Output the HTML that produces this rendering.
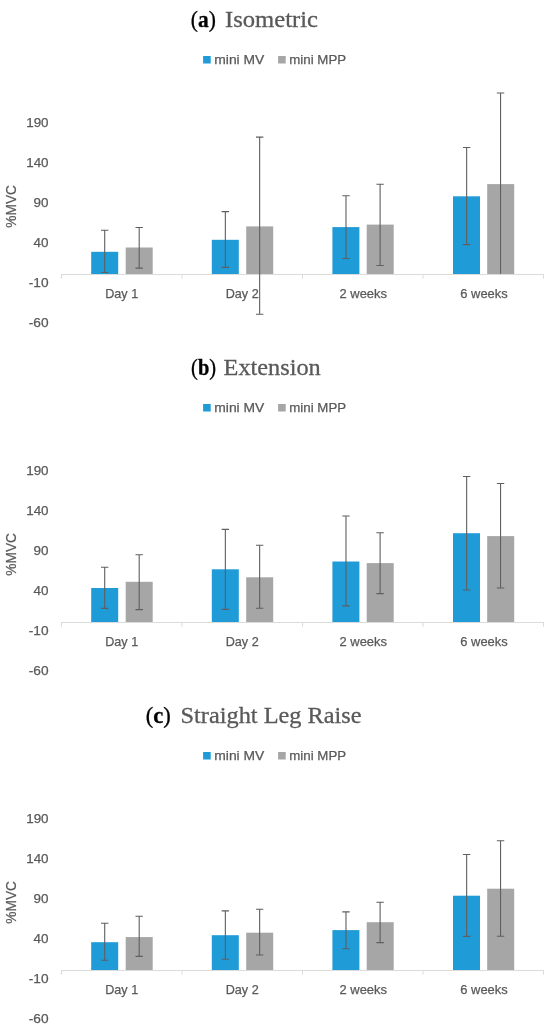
<!DOCTYPE html>
<html lang="en">
<head>
<meta charset="utf-8">
<title>EMG activity charts</title>
<style>
html,body{margin:0;padding:0;background:#fff;}
svg{display:block;}
.s{font-family:"Liberation Sans","DejaVu Sans",sans-serif;font-size:13.1px;fill:#595959;stroke:#595959;stroke-width:0.25px;}
.yt{font-family:"Liberation Sans","DejaVu Sans",sans-serif;font-size:14.4px;fill:#595959;stroke:#595959;stroke-width:0.25px;}
.t{font-family:"Liberation Serif","DejaVu Serif",serif;font-size:23px;stroke-width:0.3px;}
.e{stroke:#5f5f5f;stroke-width:1.1;fill:none;}
</style>
</head>
<body>
<svg width="550" height="1029" viewBox="0 0 550 1029">
<rect width="550" height="1029" fill="#ffffff"/>
<g transform="translate(0,0)">
<text class="t" x="190.8" y="27.3" fill="#000" stroke="#000" textLength="25" lengthAdjust="spacingAndGlyphs">(<tspan font-weight="bold">a</tspan>)</text>
<text class="t" x="225" y="27.3" fill="#595959" stroke="#595959" textLength="93" lengthAdjust="spacingAndGlyphs">Isometric</text>
<rect x="203.1" y="56" width="7.6" height="7.5" fill="#1f9bd8"/>
<text class="s" x="214.3" y="64" textLength="50" lengthAdjust="spacingAndGlyphs">mini MV</text>
<rect x="278.1" y="56" width="7.6" height="7.5" fill="#a6a6a6"/>
<text class="s" x="289.3" y="64" textLength="56.8" lengthAdjust="spacingAndGlyphs">mini MPP</text>
<text class="s" x="26.2" y="127" textLength="22.4" lengthAdjust="spacingAndGlyphs">190</text>
<text class="s" x="26.2" y="167" textLength="22.4" lengthAdjust="spacingAndGlyphs">140</text>
<text class="s" x="33.6" y="207" textLength="15" lengthAdjust="spacingAndGlyphs">90</text>
<text class="s" x="33.6" y="247" textLength="15" lengthAdjust="spacingAndGlyphs">40</text>
<text class="s" x="28.8" y="287" textLength="19.8" lengthAdjust="spacingAndGlyphs">-10</text>
<text class="s" x="28.8" y="327" textLength="19.8" lengthAdjust="spacingAndGlyphs">-60</text>
<text class="yt" transform="translate(16.2,227.7) rotate(-90)" textLength="42.6" lengthAdjust="spacingAndGlyphs">%MVC</text>
<path d="M61 274.5 H544" stroke="#dbdbdb" stroke-width="1" fill="none"/>
<path d="M61.5 274.5 v4.2 M182 274.5 v4.2 M302.5 274.5 v4.2 M423 274.5 v4.2 M543.5 274.5 v4.2" stroke="#dbdbdb" stroke-width="1" fill="none"/>
<rect x="91.2" y="251.8" width="27" height="22.2" fill="#1f9bd8"/>
<rect x="125.7" y="247.5" width="27" height="26.5" fill="#a6a6a6"/>
<rect x="211.8" y="239.8" width="27" height="34.2" fill="#1f9bd8"/>
<rect x="246.2" y="226.4" width="27" height="47.6" fill="#a6a6a6"/>
<rect x="332.4" y="227.1" width="27" height="46.9" fill="#1f9bd8"/>
<rect x="366.7" y="224.6" width="27" height="49.4" fill="#a6a6a6"/>
<rect x="453" y="196.3" width="27" height="77.7" fill="#1f9bd8"/>
<rect x="487.2" y="184.1" width="27" height="89.9" fill="#a6a6a6"/>
<path class="e" d="M101 230.3 h7.4 M101 272.5 h7.4 M104.7 230.3 V272.5"/>
<path class="e" d="M135.5 227.5 h7.4 M135.5 268.1 h7.4 M139.2 227.5 V268.1"/>
<path class="e" d="M221.65 211.6 h7.4 M221.65 267.4 h7.4 M225.35 211.6 V267.4"/>
<path class="e" d="M255.95 137.1 h7.4 M255.95 314.3 h7.4 M259.65 137.1 V314.3"/>
<path class="e" d="M342.3 195.8 h7.4 M342.3 258.5 h7.4 M346 195.8 V258.5"/>
<path class="e" d="M376.4 184.3 h7.4 M376.4 265.5 h7.4 M380.1 184.3 V265.5"/>
<path class="e" d="M462.95 147.5 h7.4 M462.95 244.6 h7.4 M466.65 147.5 V244.6"/>
<path class="e" d="M496.85 93 h7.4 M500.55 93 V273.8"/>
<text class="s" x="105.2" y="297.5" textLength="33" lengthAdjust="spacingAndGlyphs">Day 1</text>
<text class="s" x="225.7" y="297.5" textLength="33" lengthAdjust="spacingAndGlyphs">Day 2</text>
<text class="s" x="339.5" y="297.5" textLength="47.5" lengthAdjust="spacingAndGlyphs">2 weeks</text>
<text class="s" x="460.25" y="297.5" textLength="47.5" lengthAdjust="spacingAndGlyphs">6 weeks</text>
</g>
<g transform="translate(0,348)">
<text class="t" x="191.1" y="27.3" fill="#000" stroke="#000" textLength="25" lengthAdjust="spacingAndGlyphs">(<tspan font-weight="bold">b</tspan>)</text>
<text class="t" x="223.6" y="27.3" fill="#595959" stroke="#595959" textLength="97.1" lengthAdjust="spacingAndGlyphs">Extension</text>
<rect x="203.1" y="56" width="7.6" height="7.5" fill="#1f9bd8"/>
<text class="s" x="214.3" y="64" textLength="50" lengthAdjust="spacingAndGlyphs">mini MV</text>
<rect x="278.1" y="56" width="7.6" height="7.5" fill="#a6a6a6"/>
<text class="s" x="289.3" y="64" textLength="56.8" lengthAdjust="spacingAndGlyphs">mini MPP</text>
<text class="s" x="26.2" y="127" textLength="22.4" lengthAdjust="spacingAndGlyphs">190</text>
<text class="s" x="26.2" y="167" textLength="22.4" lengthAdjust="spacingAndGlyphs">140</text>
<text class="s" x="33.6" y="207" textLength="15" lengthAdjust="spacingAndGlyphs">90</text>
<text class="s" x="33.6" y="247" textLength="15" lengthAdjust="spacingAndGlyphs">40</text>
<text class="s" x="28.8" y="287" textLength="19.8" lengthAdjust="spacingAndGlyphs">-10</text>
<text class="s" x="28.8" y="327" textLength="19.8" lengthAdjust="spacingAndGlyphs">-60</text>
<text class="yt" transform="translate(16.2,227.7) rotate(-90)" textLength="42.6" lengthAdjust="spacingAndGlyphs">%MVC</text>
<path d="M61 274.5 H544" stroke="#dbdbdb" stroke-width="1" fill="none"/>
<path d="M61.5 274.5 v4.2 M182 274.5 v4.2 M302.5 274.5 v4.2 M423 274.5 v4.2 M543.5 274.5 v4.2" stroke="#dbdbdb" stroke-width="1" fill="none"/>
<rect x="91.2" y="240" width="27" height="34" fill="#1f9bd8"/>
<rect x="125.7" y="233.8" width="27" height="40.2" fill="#a6a6a6"/>
<rect x="211.8" y="221.3" width="27" height="52.7" fill="#1f9bd8"/>
<rect x="246.2" y="229.3" width="27" height="44.7" fill="#a6a6a6"/>
<rect x="332.4" y="213.5" width="27" height="60.5" fill="#1f9bd8"/>
<rect x="366.7" y="215.1" width="27" height="58.9" fill="#a6a6a6"/>
<rect x="453" y="185.2" width="27" height="88.8" fill="#1f9bd8"/>
<rect x="487.2" y="188.1" width="27" height="85.9" fill="#a6a6a6"/>
<path class="e" d="M101 219.2 h7.4 M101 260.4 h7.4 M104.7 219.2 V260.4"/>
<path class="e" d="M135.5 206.7 h7.4 M135.5 261.6 h7.4 M139.2 206.7 V261.6"/>
<path class="e" d="M221.65 181.4 h7.4 M221.65 261.4 h7.4 M225.35 181.4 V261.4"/>
<path class="e" d="M255.95 197.2 h7.4 M255.95 260.2 h7.4 M259.65 197.2 V260.2"/>
<path class="e" d="M342.3 168 h7.4 M342.3 257.9 h7.4 M346 168 V257.9"/>
<path class="e" d="M376.4 184.7 h7.4 M376.4 245.6 h7.4 M380.1 184.7 V245.6"/>
<path class="e" d="M462.95 128.5 h7.4 M462.95 242 h7.4 M466.65 128.5 V242"/>
<path class="e" d="M496.85 135.5 h7.4 M496.85 240 h7.4 M500.55 135.5 V240"/>
<text class="s" x="105.2" y="297.5" textLength="33" lengthAdjust="spacingAndGlyphs">Day 1</text>
<text class="s" x="225.7" y="297.5" textLength="33" lengthAdjust="spacingAndGlyphs">Day 2</text>
<text class="s" x="339.5" y="297.5" textLength="47.5" lengthAdjust="spacingAndGlyphs">2 weeks</text>
<text class="s" x="460.25" y="297.5" textLength="47.5" lengthAdjust="spacingAndGlyphs">6 weeks</text>
</g>
<g transform="translate(0,696)">
<text class="t" x="145.8" y="27.3" fill="#000" stroke="#000" textLength="25" lengthAdjust="spacingAndGlyphs">(<tspan font-weight="bold">c</tspan>)</text>
<text class="t" x="180.6" y="27.3" fill="#595959" stroke="#595959" textLength="180.9" lengthAdjust="spacingAndGlyphs">Straight Leg Raise</text>
<rect x="203.1" y="56" width="7.6" height="7.5" fill="#1f9bd8"/>
<text class="s" x="214.3" y="64" textLength="50" lengthAdjust="spacingAndGlyphs">mini MV</text>
<rect x="278.1" y="56" width="7.6" height="7.5" fill="#a6a6a6"/>
<text class="s" x="289.3" y="64" textLength="56.8" lengthAdjust="spacingAndGlyphs">mini MPP</text>
<text class="s" x="26.2" y="127" textLength="22.4" lengthAdjust="spacingAndGlyphs">190</text>
<text class="s" x="26.2" y="167" textLength="22.4" lengthAdjust="spacingAndGlyphs">140</text>
<text class="s" x="33.6" y="207" textLength="15" lengthAdjust="spacingAndGlyphs">90</text>
<text class="s" x="33.6" y="247" textLength="15" lengthAdjust="spacingAndGlyphs">40</text>
<text class="s" x="28.8" y="287" textLength="19.8" lengthAdjust="spacingAndGlyphs">-10</text>
<text class="s" x="28.8" y="327" textLength="19.8" lengthAdjust="spacingAndGlyphs">-60</text>
<text class="yt" transform="translate(16.2,227.7) rotate(-90)" textLength="42.6" lengthAdjust="spacingAndGlyphs">%MVC</text>
<path d="M61 274.5 H544" stroke="#dbdbdb" stroke-width="1" fill="none"/>
<path d="M61.5 274.5 v4.2 M182 274.5 v4.2 M302.5 274.5 v4.2 M423 274.5 v4.2 M543.5 274.5 v4.2" stroke="#dbdbdb" stroke-width="1" fill="none"/>
<rect x="91.2" y="246.2" width="27" height="27.8" fill="#1f9bd8"/>
<rect x="125.7" y="241.1" width="27" height="32.9" fill="#a6a6a6"/>
<rect x="211.8" y="239.2" width="27" height="34.8" fill="#1f9bd8"/>
<rect x="246.2" y="236.7" width="27" height="37.3" fill="#a6a6a6"/>
<rect x="332.4" y="234.1" width="27" height="39.9" fill="#1f9bd8"/>
<rect x="366.7" y="226.2" width="27" height="47.8" fill="#a6a6a6"/>
<rect x="453" y="199.7" width="27" height="74.3" fill="#1f9bd8"/>
<rect x="487.2" y="192.7" width="27" height="81.3" fill="#a6a6a6"/>
<path class="e" d="M101 227.3 h7.4 M101 264.3 h7.4 M104.7 227.3 V264.3"/>
<path class="e" d="M135.5 220.3 h7.4 M135.5 260.4 h7.4 M139.2 220.3 V260.4"/>
<path class="e" d="M221.65 214.9 h7.4 M221.65 263.3 h7.4 M225.35 214.9 V263.3"/>
<path class="e" d="M255.95 213.3 h7.4 M255.95 259 h7.4 M259.65 213.3 V259"/>
<path class="e" d="M342.3 215.9 h7.4 M342.3 252.8 h7.4 M346 215.9 V252.8"/>
<path class="e" d="M376.4 206.3 h7.4 M376.4 246.6 h7.4 M380.1 206.3 V246.6"/>
<path class="e" d="M462.95 158.5 h7.4 M462.95 240.4 h7.4 M466.65 158.5 V240.4"/>
<path class="e" d="M496.85 144.7 h7.4 M496.85 240.2 h7.4 M500.55 144.7 V240.2"/>
<text class="s" x="105.2" y="297.5" textLength="33" lengthAdjust="spacingAndGlyphs">Day 1</text>
<text class="s" x="225.7" y="297.5" textLength="33" lengthAdjust="spacingAndGlyphs">Day 2</text>
<text class="s" x="339.5" y="297.5" textLength="47.5" lengthAdjust="spacingAndGlyphs">2 weeks</text>
<text class="s" x="460.25" y="297.5" textLength="47.5" lengthAdjust="spacingAndGlyphs">6 weeks</text>
</g>
</svg>
</body>
</html>
